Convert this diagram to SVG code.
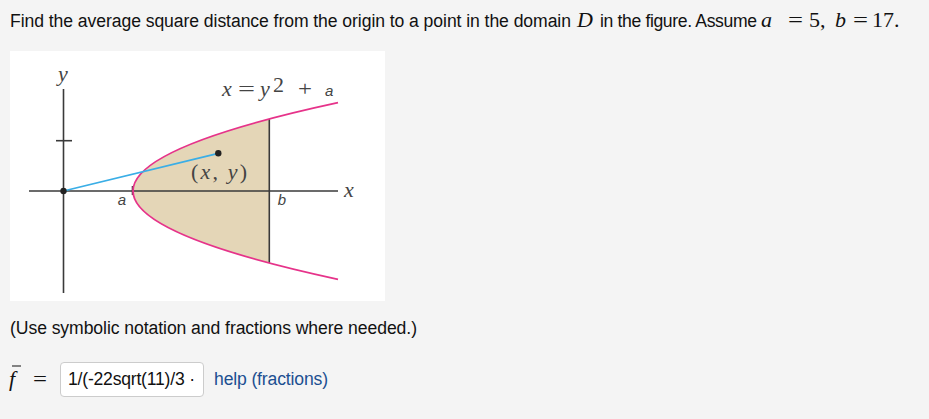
<svg xmlns="http://www.w3.org/2000/svg" width="929" height="419" viewBox="0 0 929 419">
<style>
.t{font-family:"Liberation Sans",Arial,sans-serif;font-size:17.6px;fill:#111}
.m{font-family:"Liberation Serif","Times New Roman",serif;font-size:22px;fill:#111}
.mi{font-style:italic}
.ax{stroke:#3a3a3a;stroke-width:1.6;fill:none}
.fl{font-family:"Liberation Serif","Times New Roman",serif;font-size:22px;fill:#444}
.fs{font-family:"Liberation Sans",Arial,sans-serif;font-size:15px;fill:#444;font-style:italic}
</style>
<rect width="929" height="419" fill="#f4f4f4"/>
<g id="title">
<text x="10" y="27" class="t" textLength="561">Find the average square distance from the origin to a point in the domain</text>
<text x="577" y="27" class="m mi">D</text>
<text x="600" y="27" class="t" textLength="157">in the figure. Assume</text>
<text x="761" y="27" class="m mi">a</text>
<text x="788" y="27" class="m" textLength="15" lengthAdjust="spacingAndGlyphs">=</text>
<text x="809" y="27" class="m">5,</text>
<text x="835" y="27" class="m mi">b</text>
<text x="853" y="27" class="m" textLength="15" lengthAdjust="spacingAndGlyphs">=</text>
<text x="872" y="27" class="m">17.</text>
</g>
<g id="figure">
<rect x="10" y="51" width="375" height="250" fill="#ffffff"/>
<path d="M269.3,119 Q-3.3,191 269.3,263 Z" fill="#e4d6b7"/>
<line x1="63.5" y1="89" x2="63.5" y2="293" class="ax"/>
<line x1="56" y1="140.7" x2="72" y2="140.7" class="ax"/>
<line x1="29" y1="191" x2="338" y2="191" class="ax"/>
<line x1="132.5" y1="186" x2="132.5" y2="195" class="ax"/>
<line x1="269.3" y1="119" x2="269.3" y2="263" class="ax"/>
<path d="M338,102.7 Q-72,191 338,279.3" fill="none" stroke="#e6338a" stroke-width="1.8"/>
<line x1="63.5" y1="191" x2="218.3" y2="153.3" stroke="#3aaee6" stroke-width="1.8"/>
<circle cx="63.5" cy="191" r="3.2" fill="#222"/>
<circle cx="218.3" cy="153.3" r="3.2" fill="#222"/>
<text x="63" y="81" class="fl mi" text-anchor="middle">y</text>
<text x="349" y="197" class="fl mi" text-anchor="middle">x</text>
<text x="122" y="205" class="fs" text-anchor="middle">a</text>
<text x="282" y="205" class="fs" text-anchor="middle">b</text>
<text x="191" y="179" class="fl" textLength="56">(<tspan class="mi">x</tspan>, <tspan class="mi">y</tspan>)</text>
<text x="222" y="96" class="fl mi">x</text>
<text x="238" y="96" class="fl" textLength="17" lengthAdjust="spacingAndGlyphs">=</text>
<text x="260" y="96" class="fl mi">y</text>
<text x="273" y="92" class="fl" font-size="14">2</text>
<text x="298" y="96" class="fl" textLength="14" lengthAdjust="spacingAndGlyphs">+</text>
<text x="325" y="96" class="fs" font-size="16">a</text>
</g>
<g id="footer">
<text x="10" y="334" class="t" textLength="407">(Use symbolic notation and fractions where needed.)</text>
<text x="9" y="386" class="m mi">f</text>
<line x1="12" y1="366" x2="21" y2="366" stroke="#111" stroke-width="1"/>
<text x="33" y="386" class="m" textLength="14" lengthAdjust="spacingAndGlyphs">=</text>
<rect x="60.5" y="362.5" width="143" height="34" rx="3.5" fill="#ffffff" stroke="#cccccc"/>
<text x="68" y="385" class="t" font-size="16.8" textLength="127">1/(-22sqrt(11)/3 ·</text>
<text x="214" y="385" class="t" style="fill:#1c4f91" font-size="16.8" textLength="114">help (fractions)</text>
</g>
</svg>
